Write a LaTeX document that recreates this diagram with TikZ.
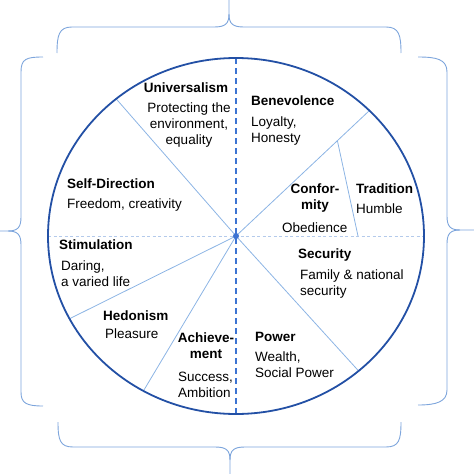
\documentclass[tikz,border=0pt]{standalone}
\usepackage{fontspec}
\setmainfont{Liberation Sans}
\usetikzlibrary{calc}
\definecolor{bracec}{RGB}{125,165,220}
\definecolor{ringc}{RGB}{35,80,165}
\definecolor{axisc}{RGB}{60,115,210}
\definecolor{radc}{RGB}{140,180,228}
\definecolor{hdash}{RGB}{180,202,235}
\tikzset{
  brace/.style={draw=bracec, line width=0.9pt, line join=round},
  ring/.style={draw=ringc, line width=1.8pt},
  vaxis/.style={draw=axisc, line width=1.6pt, dash pattern=on 6pt off 4pt},
  haxis/.style={draw=hdash, line width=0.8pt, dash pattern=on 3pt off 2.5pt},
  radial/.style={draw=radc, line width=0.8pt},
  ttl/.style={inner sep=0pt, font=\fontsize{13.5}{16}\selectfont\bfseries},
  dsc/.style={inner sep=0pt, font=\fontsize{13.5}{16}\selectfont},
}
\begin{document}
\begin{tikzpicture}[x=1pt,y=-1pt]
\useasboundingbox (0,0) rectangle (474,474);
\coordinate (c) at (236,236);
% braces
\draw[brace] (57,53) .. controls (57,35) and (59,27) .. (72,27) -- (214,27)
  .. controls (225,27) and (229,24) .. (229,14) -- (229,0);
\draw[brace] (229,14) .. controls (229,24) and (233,27) .. (244,27) -- (386,27)
  .. controls (399,27) and (401,35) .. (401,53);
\draw[brace] (58,422) .. controls (58,440) and (60,447) .. (73,447) -- (215,447)
  .. controls (226,447) and (230,450) .. (230,460) -- (230,474);
\draw[brace] (230,460) .. controls (230,450) and (234,447) .. (245,447) -- (386,447)
  .. controls (399,447) and (401,440) .. (401,422);
\draw[brace] (43,57) .. controls (26,57) and (21,59) .. (21,72) -- (21,217)
  .. controls (21,227) and (18,231) .. (8,231) -- (0,231);
\draw[brace] (8,231) .. controls (18,231) and (21,235) .. (21,245) -- (21,392)
  .. controls (21,403) and (26,406) .. (43,406);
\draw[brace] (418,57) .. controls (436,57) and (447,59) .. (447,72) -- (447,216)
  .. controls (447,226) and (450,230) .. (460,230) -- (474,230);
\draw[brace] (460,230) .. controls (450,230) and (447,234) .. (447,244) -- (447,390)
  .. controls (447,402) and (436,405) .. (418,405);
% axes
\coordinate (top) at (236,58);
\coordinate (bot) at (236,414);
\coordinate (lft) at (48,236);
\coordinate (rgt) at (424,236);
\draw[haxis] (lft) -- (rgt);
% radial lines
\coordinate (p1) at ($(c)+(-129.6:188 and 178)$);
\coordinate (p2) at ($(c)+(-44.8:188 and 178)$);
\coordinate (p3) at ($(c)+(49.3:188 and 178)$);
\coordinate (p4) at ($(c)+(152.3:188 and 178)$);
\coordinate (p5) at ($(c)+(119.5:188 and 178)$);
\coordinate (t1) at ($(c)!0.76!(p2)$);
\coordinate (t2) at (358,236);
\draw[radial] (c) -- (p1);
\draw[radial] (c) -- (p2);
\draw[radial] (c) -- (p3);
\draw[radial] (c) -- (p4);
\draw[radial] (c) -- (p5);
\draw[radial] (t1) -- (t2);
\draw[vaxis] (top) -- (bot);
\draw[ring] (c) ellipse [x radius=188, y radius=178];
\fill[axisc] (c) circle (3pt);
% labels
\node[ttl, anchor=base] (un) at (186,92) {Universalism};
\node[dsc, anchor=north, align=center] (und) at (189,102.2) {Protecting the\\environment,\\equality};
\node[ttl, anchor=base west] (be) at (251,105) {Benevolence};
\node[dsc, anchor=north west, align=left] (bed) at (251,116.2) {Loyalty,\\Honesty};
\node[ttl, anchor=base west] (sd) at (67,188) {Self-Direction};
\node[dsc, anchor=base west] (sdd) at (67,208) {Freedom, creativity};
\node[ttl, anchor=north, align=center] (co) at (315,183.2) {Confor-\\mity};
\node[dsc, anchor=base west] (cod) at (282,232) {Obedience};
\node[ttl, anchor=base west] (tr) at (356,193) {Tradition};
\node[dsc, anchor=base west] (trd) at (356,213) {Humble};
\node[ttl, anchor=base west] (st) at (59,249) {Stimulation};
\node[dsc, anchor=north west, align=left] (std) at (61,260.2) {Daring,\\a varied life};
\node[ttl, anchor=base west] (he) at (103,320) {Hedonism};
\node[dsc, anchor=base west] (hed) at (105,338) {Pleasure};
\node[ttl, anchor=north, align=center] (ac) at (206,332.2) {Achieve-\\ment};
\node[dsc, anchor=north west, align=left] (acd) at (178,372.2) {Success,\\Ambition};
\node[ttl, anchor=base west] (se) at (298,258) {Security};
\node[dsc, anchor=north west, align=left] (sed) at (300,269.2) {Family \& national\\security};
\node[ttl, anchor=base west] (po) at (255,341) {Power};
\node[dsc, anchor=north west, align=left] (pod) at (255,351.2) {Wealth,\\Social Power};
\end{tikzpicture}
\end{document}
